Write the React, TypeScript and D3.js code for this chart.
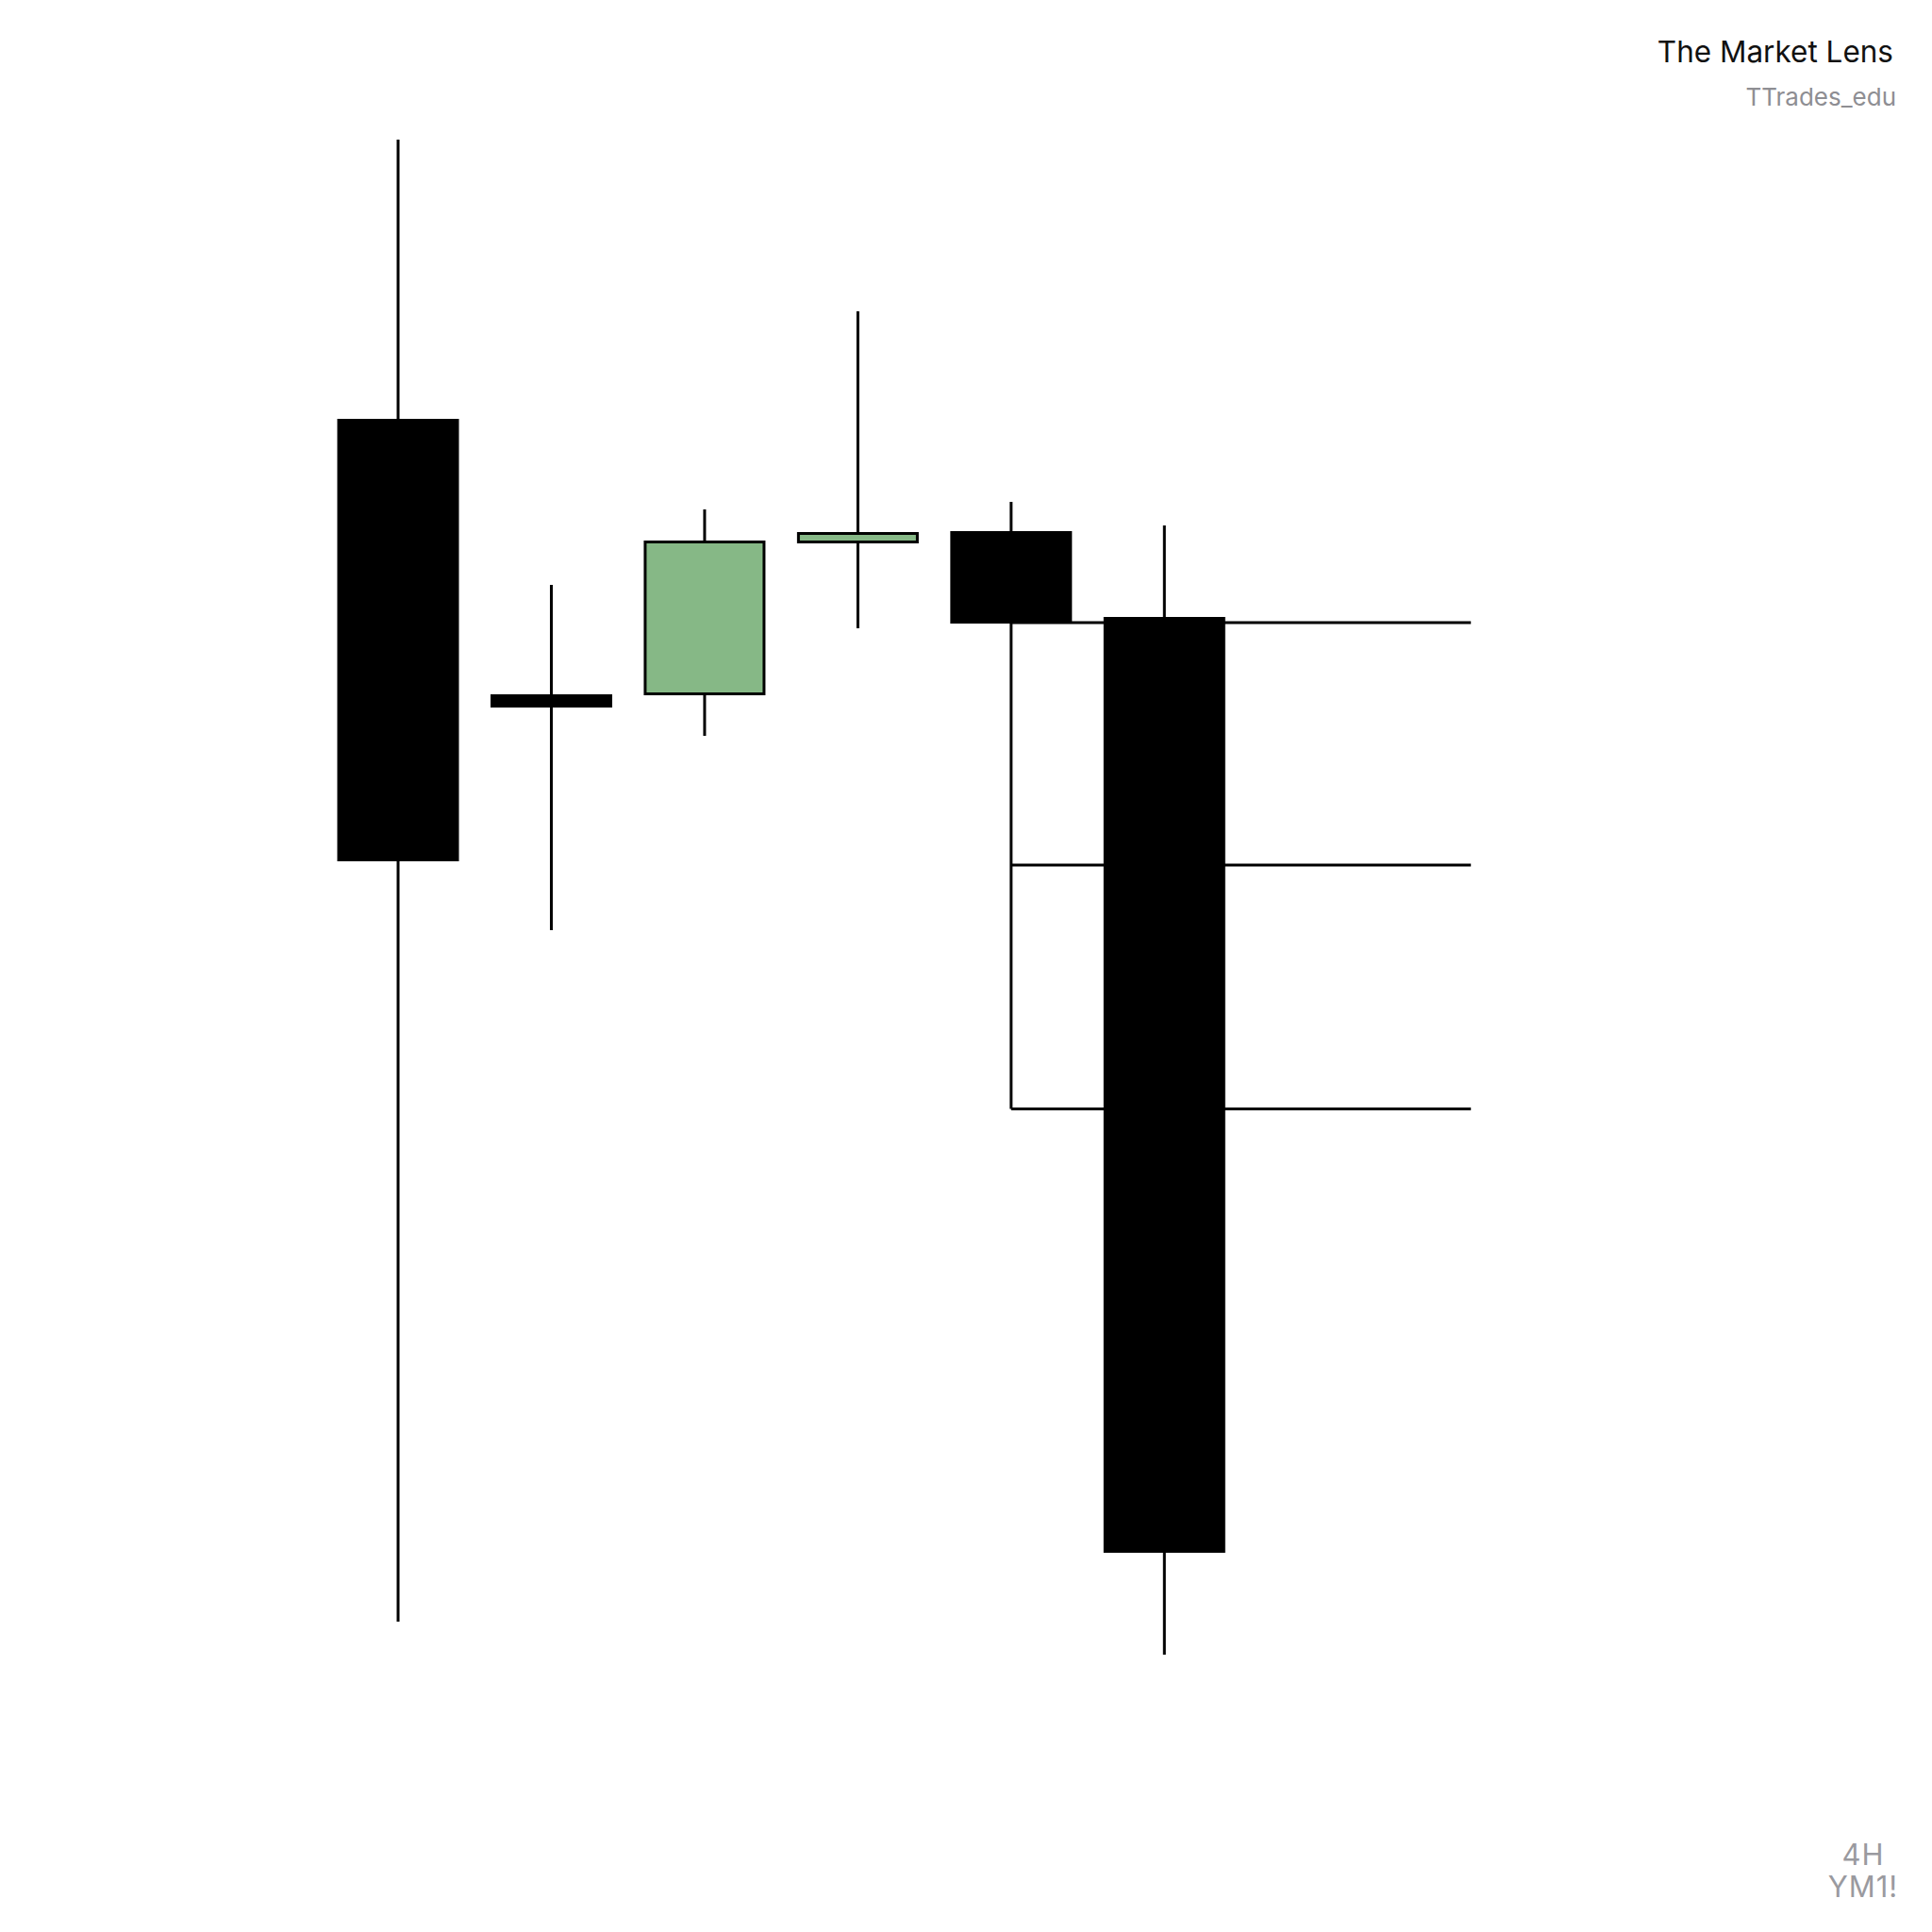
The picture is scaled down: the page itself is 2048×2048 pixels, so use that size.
import React from "react";
import * as d3 from "d3";

const candleIndex = [0, 1, 2, 3, 4, 5];
const opens = [39678, 39532, 39531.5, 39612, 39618.5, 39573];
const highs = [39826, 39590, 39630, 39735, 39634, 39621.5];
const lows = [39040.5, 39407, 39510, 39567, 39569.5, 39023];
const closes = [39443.5, 39525, 39613.5, 39618, 39569.5, 39077];

const levelPrices = [39570, 39441.5, 39312.25];
const levelStartIndex = 4;
const levelEndIndex = 7;

const titleText = "The Market Lens";
const authorText = "TTrades_edu";
const timeframeText = "4H";
const symbolText = "YM1!";

const W = 2048;
const H = 2048;

export default function App() {
  const x = d3.scaleLinear().domain([0, 5]).range([422, 1234.3]);
  const y = d3.scaleLinear().domain([39000, 39800]).range([1800, 200]);
  const bodyW = 126;
  const sw = 3;
  const green = "#86B886";

  const candles = candleIndex.map((i) => ({
    i,
    o: opens[i],
    h: highs[i],
    l: lows[i],
    c: closes[i],
  }));

  const renderCandle = (d: any) => {
    const cx = x(d.i);
    const up = d.c > d.o;
    const top = y(Math.max(d.o, d.c));
    const bot = y(Math.min(d.o, d.c));
    return (
      <g key={d.i}>
        <line x1={cx} x2={cx} y1={y(d.h)} y2={y(d.l)} stroke="#000" strokeWidth={sw} />
        <rect
          x={cx - bodyW / 2}
          y={top + sw / 2}
          width={bodyW}
          height={Math.max(0.5, bot - top - sw)}
          fill={up ? green : "#000"}
          stroke="#000"
          strokeWidth={sw}
        />
      </g>
    );
  };

  const lx0 = x(levelStartIndex);
  const lx1 = x(levelEndIndex);

  return (
    <svg width={W} height={H} style={{ display: "block", position: "absolute", left: 0, top: 0 }} fontFamily="Inter, 'Noto Sans', sans-serif">
      <rect x={0} y={0} width={W} height={H} fill="#fff" />
      {candles.slice(0, 5).map(renderCandle)}
      <g stroke="#000" strokeWidth={sw} fill="none">
        <line x1={lx0} x2={lx0} y1={y(levelPrices[0])} y2={y(levelPrices[levelPrices.length - 1])} />
        {levelPrices.map((p, k) => (
          <line key={k} x1={lx0} x2={lx1} y1={y(p)} y2={y(p)} />
        ))}
      </g>
      {candles.slice(5).map(renderCandle)}
      <text x={2007} y={66} textAnchor="end" fontSize={31.5} fill="#111">{titleText}</text>
      <text x={2010} y={112} textAnchor="end" fontSize={26} fill="#8e8e93">{authorText}</text>
      <text x={1975} y={1977} textAnchor="middle" fontSize={31} letterSpacing={1} fill="#9a9a9f">{timeframeText}</text>
      <text x={1975} y={2011} textAnchor="middle" fontSize={31} letterSpacing={1} fill="#9a9a9f">{symbolText}</text>
    </svg>
  );
}
